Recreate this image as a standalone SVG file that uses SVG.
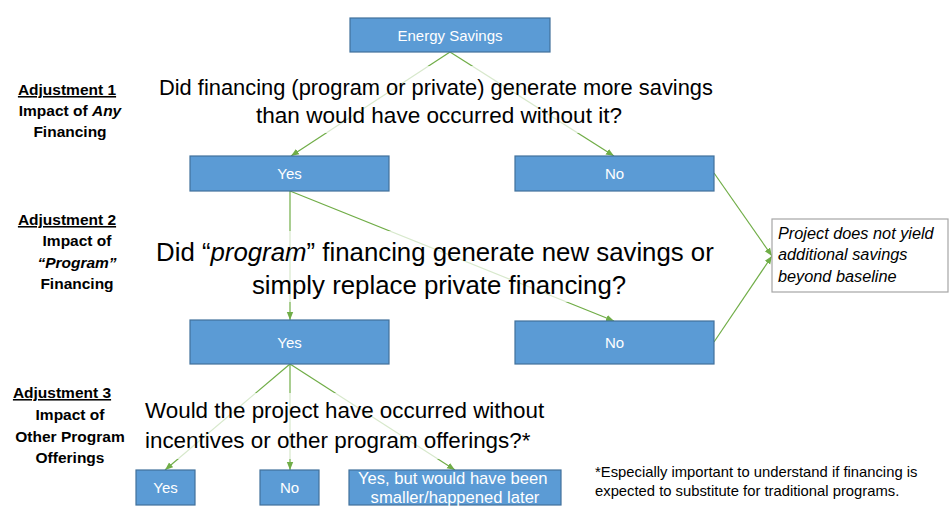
<svg xmlns="http://www.w3.org/2000/svg" width="951" height="515" viewBox="0 0 951 515">
  <style>
    .box { fill: #5B9BD5; stroke: #41719C; stroke-width: 1.2; }
    .bt { font-family: "Liberation Sans", Arial, sans-serif; font-size: 15px; fill: #ffffff; text-anchor: middle; }
    .bt2 { font-size: 16.6px; }
    .q { font-family: "Liberation Sans", Arial, sans-serif; fill: #000000; }
    .lbl { font-family: "Liberation Sans", Arial, sans-serif; font-size: 15.5px; font-weight: bold; fill: #000000; text-anchor: middle; }
    .conn { stroke: #70AD47; stroke-width: 1.2; fill: none; marker-end: url(#ah); }
    .veil { fill: #ffffff; fill-opacity: 0.72; }
  </style>
  <defs>
    <marker id="ah" markerUnits="userSpaceOnUse" markerWidth="8" markerHeight="8" viewBox="0 0 8 8" refX="8" refY="4" orient="auto">
      <path d="M0,0.8 L8,4 L0,7.2 Z" fill="#70AD47"/>
    </marker>
  </defs>
  <rect width="951" height="515" fill="#ffffff"/>

  <g id="connectors">
    <line class="conn" x1="450" y1="52" x2="291" y2="156"/>
    <line class="conn" x1="450" y1="52" x2="614" y2="156"/>
    <line class="conn" x1="290" y1="191" x2="290" y2="320"/>
    <line class="conn" x1="290" y1="191" x2="614" y2="321"/>
    <line class="conn" x1="714" y1="173" x2="772" y2="256"/>
    <line class="conn" x1="714" y1="342" x2="772" y2="256"/>
    <line class="conn" x1="290" y1="364" x2="165" y2="470"/>
    <line class="conn" x1="290" y1="364" x2="290" y2="470"/>
    <line class="conn" x1="290" y1="364" x2="455" y2="470"/>
  </g>

  <g id="question1">
    <rect class="veil" x="155" y="66" width="568" height="67"/>
    <text class="q" font-size="22" text-anchor="middle">
      <tspan x="439" y="95" textLength="554" lengthAdjust="spacingAndGlyphs">Did financing (program or private) generate more savings</tspan>
      <tspan x="439" y="123" textLength="366" lengthAdjust="spacingAndGlyphs">than would have occurred without it?</tspan>
    </text>
  </g>

  <g id="question2">
    <rect class="veil" x="152" y="231" width="573" height="71"/>
    <text class="q" font-size="25.8" text-anchor="middle">
      <tspan x="438.5" y="261">Did “<tspan font-style="italic">program</tspan>” financing generate new savings or</tspan>
      <tspan x="439" y="294">simply replace private financing?</tspan>
    </text>
  </g>

  <g id="question3">
    <rect class="veil" x="140" y="393" width="412" height="66"/>
    <text class="q" font-size="22.4">
      <tspan x="145" y="418">Would the project have occurred without</tspan>
      <tspan x="145" y="448">incentives or other program offerings?*</tspan>
    </text>
  </g>

  <g id="adj1">
    <text class="lbl" x="67" y="95" text-decoration="underline">Adjustment 1</text>
    <text class="lbl" x="70" y="116">Impact of <tspan font-style="italic">Any</tspan></text>
    <text class="lbl" x="70" y="137">Financing</text>
  </g>
  <g id="adj2">
    <text class="lbl" x="67" y="225" text-decoration="underline">Adjustment 2</text>
    <text class="lbl" x="77" y="246">Impact of</text>
    <text class="lbl" x="77" y="268" font-style="italic">“Program”</text>
    <text class="lbl" x="77" y="289">Financing</text>
  </g>
  <g id="adj3">
    <text class="lbl" x="62" y="398" text-decoration="underline">Adjustment 3</text>
    <text class="lbl" x="70" y="420">Impact of</text>
    <text class="lbl" x="70" y="442">Other Program</text>
    <text class="lbl" x="70" y="463">Offerings</text>
  </g>

  <g id="energy-savings">
    <rect class="box" x="350" y="18" width="200" height="34"/>
    <text class="bt" x="450" y="40.5">Energy Savings</text>
  </g>
  <g id="yes1">
    <rect class="box" x="190" y="156" width="199" height="35"/>
    <text class="bt" x="289.5" y="178.5">Yes</text>
  </g>
  <g id="no1">
    <rect class="box" x="515" y="156" width="199" height="35"/>
    <text class="bt" x="614.5" y="178.5">No</text>
  </g>
  <g id="result">
    <rect x="772" y="219" width="176" height="73" fill="#ffffff" stroke="#A6A6A6" stroke-width="1.2"/>
    <text class="q" font-size="16.3" font-style="italic">
      <tspan x="778" y="239">Project does not yield</tspan>
      <tspan x="778" y="260">additional savings</tspan>
      <tspan x="778" y="282">beyond baseline</tspan>
    </text>
  </g>
  <g id="yes2">
    <rect class="box" x="190" y="320" width="199" height="44"/>
    <text class="bt" x="289.5" y="347.5">Yes</text>
  </g>
  <g id="no2">
    <rect class="box" x="515" y="321" width="199" height="43"/>
    <text class="bt" x="614.5" y="348">No</text>
  </g>
  <g id="yes3">
    <rect class="box" x="136" y="470" width="59" height="35"/>
    <text class="bt" x="165.5" y="493">Yes</text>
  </g>
  <g id="no3">
    <rect class="box" x="260" y="470" width="59" height="35"/>
    <text class="bt" x="289.5" y="493">No</text>
  </g>
  <g id="yes-but">
    <rect class="box" x="349" y="470" width="212" height="35"/>
    <text class="bt bt2">
      <tspan x="455" y="484">Yes, but would have been</tspan>
      <tspan x="455" y="503">smaller/happened later</tspan>
    </text>
  </g>

  <g id="footnote">
    <text class="q" font-size="14.8">
      <tspan x="595" y="477">*Especially important to understand if financing is</tspan>
      <tspan x="595" y="496">expected to substitute for traditional programs.</tspan>
    </text>
  </g>
</svg>
